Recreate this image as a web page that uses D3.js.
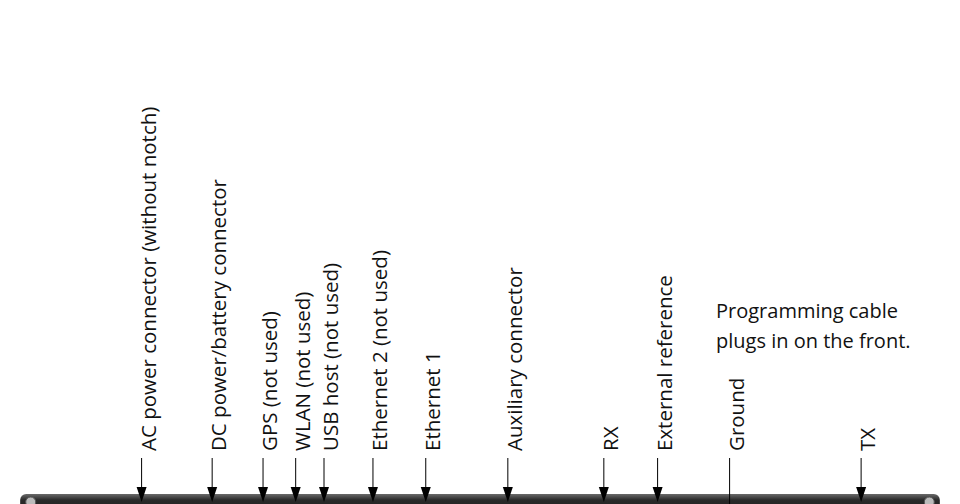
<!DOCTYPE html>
<html>
<head>
<meta charset="utf-8">
<script src="https://cdn.jsdelivr.net/npm/d3@7"></script>
<style>
  body { margin: 0; background: #fff; }
  text { font-family: "Open Sans", sans-serif; fill: #111; }
</style>
</head>
<body>
<div id="container"></div>
<script>
const WIDTH = 960;
const HEIGHT = 504;

// connector labels and their position along the panel (percent of panel width)
const labels = [
  "AC power connector (without notch)",
  "DC power/battery connector",
  "GPS (not used)",
  "WLAN (not used)",
  "USB host (not used)",
  "Ethernet 2 (not used)",
  "Ethernet 1",
  "Auxiliary connector",
  "RX",
  "External reference",
  "Ground",
  "TX",
];
const positions = [14.75, 22.1, 27.4, 30.8, 33.75, 38.85, 44.35, 52.9, 62.9, 68.5, 76.0, 89.7];
const hasArrow = [true, true, true, true, true, true, true, true, true, true, false, true];
const noteLines = ["Programming cable", "plugs in on the front."];

const x = d3.scaleLinear().domain([0, 100]).range([0, WIDTH]);

const svg = d3.select("#container").append("svg")
  .attr("width", WIDTH).attr("height", HEIGHT);

const defs = svg.append("defs");
const grad = defs.append("linearGradient").attr("id", "panel")
  .attr("x1", 0).attr("y1", 0).attr("x2", 0).attr("y2", 1);
grad.append("stop").attr("offset", "0%").attr("stop-color", "#6a6a6a");
grad.append("stop").attr("offset", "30%").attr("stop-color", "#2a2a2a");
grad.append("stop").attr("offset", "100%").attr("stop-color", "#1a1a1a");

// device panel
svg.append("rect")
  .attr("x", x(2.1)).attr("y", 494)
  .attr("width", x(97.9) - x(2.1)).attr("height", 20)
  .attr("rx", 6).attr("fill", "url(#panel)");
[3.2, 96.8].forEach((p) => {
  svg.append("circle").attr("cx", x(p)).attr("cy", 502).attr("r", 5)
    .attr("fill", "#bbb").attr("stroke", "#555");
});

const g = svg.selectAll("g.label").data(labels).enter().append("g")
  .attr("class", "label");

g.append("line")
  .attr("x1", (d, i) => x(positions[i])).attr("x2", (d, i) => x(positions[i]))
  .attr("y1", 458)
  .attr("y2", (d, i) => (hasArrow[i] ? 490 : 504))
  .attr("stroke", "#000").attr("stroke-width", 1);

g.filter((d, i) => hasArrow[i]).append("path")
  .attr("d", (d) => {
    const cx = x(positions[labels.indexOf(d)]);
    return `M${cx - 5},487 L${cx + 5},487 L${cx},502 Z`;
  })
  .attr("fill", "#000");

g.append("text")
  .attr("transform", (d, i) => `translate(${x(positions[i]) + 14},451) rotate(-90)`)
  .style("font-size", "20.5px")
  .text((d) => d);

svg.append("g").selectAll("text").data(noteLines).enter().append("text")
  .attr("x", 716).attr("y", (d, i) => 318 + i * 30)
  .style("font-size", "20px")
  .text((d) => d);
</script>
</body>
</html>
